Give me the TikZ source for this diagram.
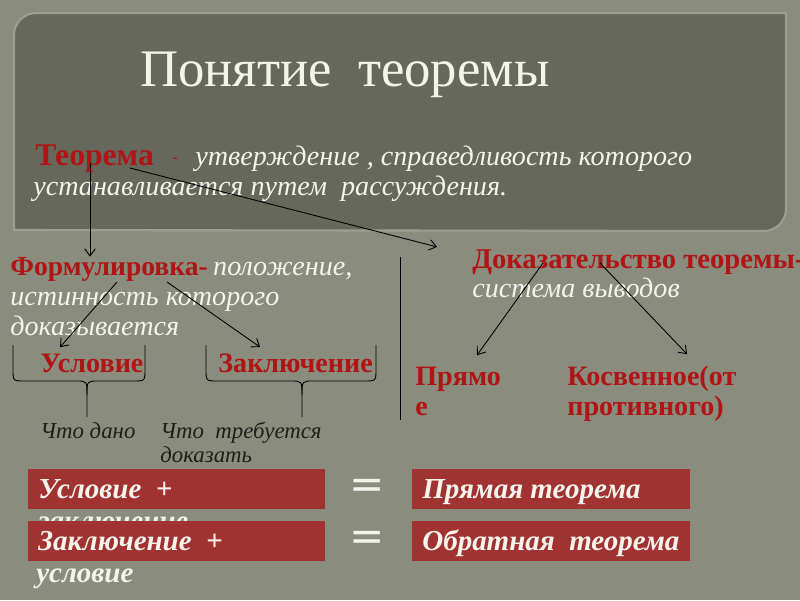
\documentclass[tikz,border=0pt]{standalone}
\usepackage{fontspec}
\setmainfont{Liberation Serif}
\newfontfamily\eqfont{DejaVu Sans}
\usetikzlibrary{positioning, arrows.meta, calc}
\definecolor{slidebg}{HTML}{8A8C7D}
\definecolor{panelgray}{HTML}{67685C}
\definecolor{panelrim}{HTML}{9C9E90}
\definecolor{termred}{HTML}{B01414}
\definecolor{boxred}{HTML}{A13232}
\definecolor{chalk}{HTML}{F4F4EC}
\definecolor{inkdark}{HTML}{1E1E1A}

\begin{document}
\begin{tikzpicture}[x=0.02cm, y=-0.02cm]

    % Styles
    \tikzstyle{txt} = [anchor=base west, inner sep=0pt]
    \tikzstyle{term} = [txt, text=termred, font=\bfseries\fontsize{16}{17}\selectfont]
    \tikzstyle{defn} = [txt, text=chalk, font=\itshape\fontsize{16}{17}\selectfont]
    \tikzstyle{note} = [txt, text=inkdark, font=\itshape\fontsize{13}{14}\selectfont]
    \tikzstyle{redbox} = [anchor=north west, fill=boxred, inner sep=0pt, minimum width=5.94cm, minimum height=0.8cm]
    \tikzstyle{boxtext} = [txt, text=chalk, font=\bfseries\itshape\fontsize{16.5}{17}\selectfont]
    \tikzstyle{arr} = [-{Straight Barb[length=4pt, width=6pt]}, line width=0.5pt, black]
    \tikzstyle{brace} = [black, line width=0.5pt]

    % Slide background and title panel
    \fill[slidebg] (0,0) rectangle (800,600);
    \useasboundingbox (0,0) rectangle (800,600);
    \filldraw[fill=panelgray, draw=panelrim, line width=1.2pt] (14,230) -- (14,35)
        .. controls (14,23) and (24,13) .. (36,13) -- (786,13) -- (786,209)
        .. controls (786,221) and (776,231) .. (764,231) -- cycle;

    % Title and definition
    \node[txt, text=chalk, font=\fontsize{30}{32}\selectfont] (title) at (140,86) {Понятие\ \ теоремы};
    \node[txt, text=termred, font=\bfseries\fontsize{18}{20}\selectfont] (teorema) at (35,165) {Теорема};
    \node[txt, text=termred, font=\fontsize{9}{10}\selectfont] (dash) at (172,162) {-};
    \node[defn] (def1) at (195,165) {утверждение ,\ справедливость которого};
    \node[defn] (def2) at (33,195) {устанавливается путем\ \ рассуждения.};

    % Left branch: formulation
    \node[term, font=\bfseries\fontsize{15.7}{17}\selectfont] (form) at (10,275) {Формулировка-};
    \node[defn] (formdef) at (form.base east) {\,положение,};
    \node[defn] (form2) at (10,305) {истинность которого};
    \node[defn] (form3) at (10,335) {доказывается};

    \node[term] (usl) at (40,372) {Условие};
    \node[term] (zakl) at (218,372) {Заключение};

    % Braces under the two parts
    \draw[brace] (13,345) -- (13,369) .. controls (13,381) .. (25,381) -- (76,381)
        .. controls (87,381) .. (87,395) -- (87,417);
    \draw[brace] (145,345) -- (145,369) .. controls (145,381) .. (133,381) -- (98,381)
        .. controls (87,381) .. (87,395);
    \draw[brace] (206,345) -- (206,369) .. controls (206,381) .. (218,381) -- (291,381)
        .. controls (302,381) .. (302,395) -- (302,417);
    \draw[brace] (376,345) -- (376,369) .. controls (376,381) .. (364,381) -- (313,381)
        .. controls (302,381) .. (302,395);

    \node[note] (dano) at (40,438) {Что дано};
    \node[note] (treb) at (160,438) {Что\ \ требуется};
    \node[note] (treb2) at (160,462) {доказать};

    % Separator
    \draw[black, line width=0.5pt] (400,257) -- (400,420);

    % Right branch: proof
    \node[term, font=\bfseries\fontsize{16.3}{17}\selectfont] (proof) at (472,268) {Доказательство теоремы-};
    \node[defn] (sys) at (472,297) {система выводов};
    \node[term] (pryam) at (415,385) {Прямо};
    \node[term] (pryam2) at (415,415) {е};
    \node[term] (kosv) at (567,385) {Косвенное(от};
    \node[term] (kosv2) at (567,415) {противного)};

    % Arrows
    \coordinate (tstem) at ($(teorema.base west)+(55,-2)$);
    \draw[arr] (tstem) -- (tstem |- form.north);
    \draw[arr] ($(teorema.base west)+(95,3)$) -- ($(proof.north west)+(-35,-2)$);
    \draw[arr] ($(form.base west)+(107,7)$) -- ($(usl.north west)+(20,-6)$);
    \draw[arr] ($(form.base west)+(157,7)$) -- ($(zakl.north west)+(42,-6)$);
    \draw[arr] ($(proof.base west)+(71,-5)$) -- ($(pryam.north west)+(62,-11)$);
    \draw[arr] ($(proof.base west)+(128,-5)$) -- ($(kosv.north west)+(120,-11)$);

    % Direct and converse theorem
    \node[redbox] (b1) at (28,469) {};
    \node[boxtext] (b1t) at (38,498) {Условие\ \ +};
    \node[boxtext] (b1t2) at (38,530) {заключение};
    \node[redbox] (b2) at (28,521) {};
    \node[boxtext] (b2t) at (38,550) {Заключение\ \ +};
    \node[boxtext] (b2t2) at (36,582) {условие};
    \node[redbox, minimum width=5.56cm] (b3) at (412,469) {};
    \node[boxtext] (b3t) at (422,498) {Прямая теорема};
    \node[redbox, minimum width=5.56cm] (b4) at (412,521) {};
    \node[boxtext] (b4t) at (422,550) {Обратная\ \ теорема};

    \node[text=chalk, font=\eqfont\fontsize{24}{24}\selectfont, inner sep=0pt] (eq1) at (367,489) {=};
    \node[text=chalk, font=\eqfont\fontsize{24}{24}\selectfont, inner sep=0pt] (eq2) at (367,541) {=};

\end{tikzpicture}
\end{document}
